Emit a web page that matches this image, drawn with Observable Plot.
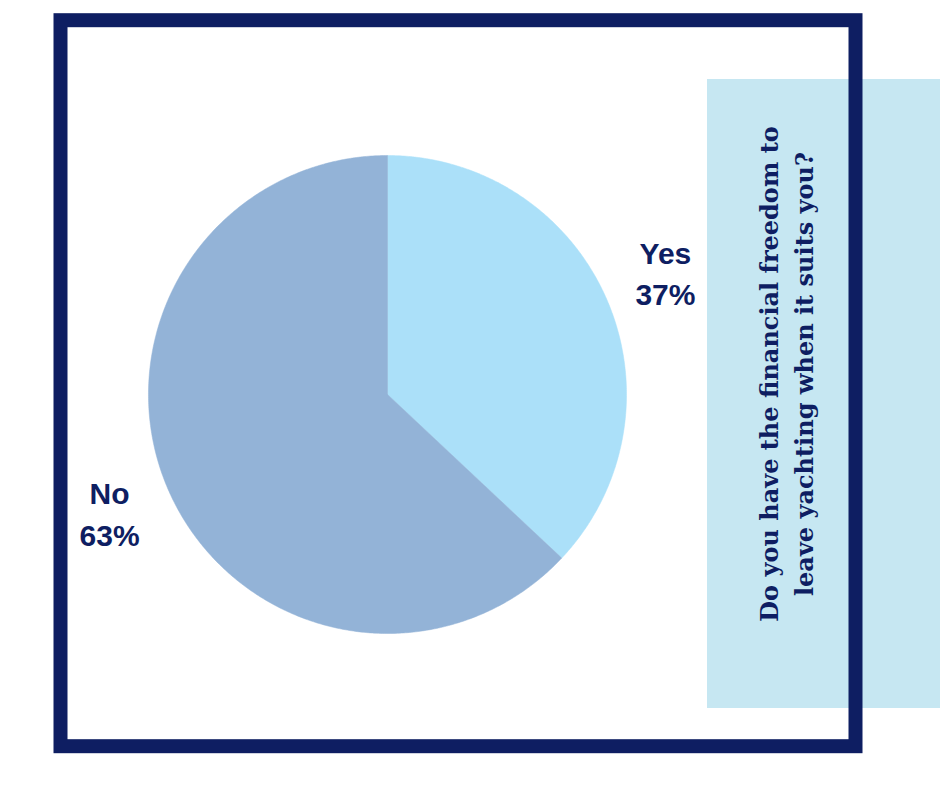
<!DOCTYPE html>
<html>
<head>
<meta charset="utf-8">
<script src="https://cdn.jsdelivr.net/npm/d3@7"></script>
<script src="https://cdn.jsdelivr.net/npm/@observablehq/plot@0.6"></script>
<style>
  html, body { margin: 0; padding: 0; background: #ffffff; }
  #wrap { position: relative; width: 940px; height: 788px; overflow: hidden; background: #ffffff; }
  #panel { position: absolute; left: 707px; top: 79px; width: 233px; height: 629px; background: #c6e7f2; z-index: 0; }
  #chart { position: absolute; left: 0; top: 0; z-index: 1; }
  #question { position: absolute; left: 787px; top: 374px; transform: translate(-50%, -50%) rotate(-90deg);
    font-family: "DejaVu Serif", serif; font-weight: bold; font-size: 24px; line-height: 35px;
    color: #0e1e62; text-align: center; white-space: nowrap; z-index: 2; }
</style>
</head>
<body>
<div id="wrap">
  <div id="panel"></div>
  <div id="chart"></div>
  <div id="question"></div>
</div>
<script>
const categories = ["Yes", "No"];
const values = [37, 63];
const sliceColors = ["#abe0f9", "#93b3d7"];
const question = ["Do you have the financial freedom to", "leave yachting when it suits you?"];

const navy = "#0e1e62";
const arcs = d3.pie().sort(null).value(d => d)(values);

function slicePoints(a) {
  const pts = [{x: 0, y: 0}];
  const n = Math.ceil((a.endAngle - a.startAngle) / (Math.PI / 360));
  for (let i = 0; i <= n; i++) {
    const t = a.startAngle + (a.endAngle - a.startAngle) * i / n;
    pts.push({x: Math.sin(t), y: Math.cos(t)});
  }
  pts.push({x: 0, y: 0});
  return pts;
}

const labelRadius = 1.267;
const labels = arcs.map((a, i) => {
  const mid = (a.startAngle + a.endAngle) / 2;
  return {x: labelRadius * Math.sin(mid), y: labelRadius * Math.cos(mid), text: `${categories[i]}\n${values[i]}%`};
});

const sliceMarks = arcs.map((a, i) =>
  Plot.line(slicePoints(a), {x: "x", y: "y", fill: sliceColors[i], stroke: sliceColors[i], strokeWidth: 0.5, curve: "linear-closed"})
);

const chart = Plot.plot({
  width: 940,
  height: 788,
  marginLeft: 60,
  marginTop: 19.7,
  marginRight: 85,
  marginBottom: 42.3,
  x: {domain: [-1.368, 1.958], axis: null},
  y: {domain: [-1.4715, 1.566], axis: null},
  style: {background: "transparent", overflow: "visible"},
  marks: [
    ...sliceMarks,
    Plot.text(labels, {x: "x", y: "y", text: "text", fill: navy, fontSize: 30, fontWeight: "bold",
      fontFamily: "Liberation Sans, Arial, sans-serif", lineHeight: 1.38, dy: -3}),
    Plot.frame({stroke: navy, strokeWidth: 14})
  ]
});
document.getElementById("chart").appendChild(chart);
document.getElementById("question").innerHTML = question.join("<br>");
</script>
</body>
</html>
